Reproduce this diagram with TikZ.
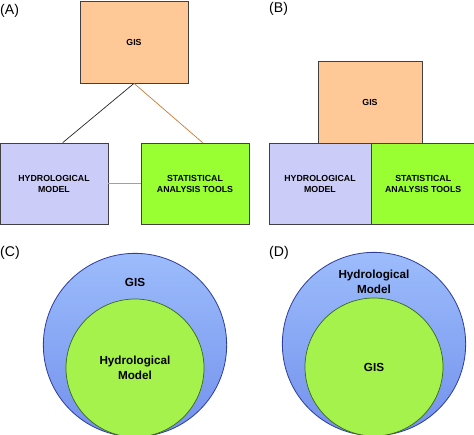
\documentclass[tikz,border=0pt]{standalone}
\usepackage{fontspec}
\setmainfont{Liberation Sans}
\usetikzlibrary{calc}
\definecolor{gisfill}{HTML}{FFC896}
\definecolor{hydfill}{HTML}{CCCCF8}
\definecolor{statfill}{HTML}{99FF33}
\definecolor{brownline}{HTML}{CC7A33}
\definecolor{greenline}{HTML}{55E022}
\definecolor{bluetop}{HTML}{9CBCFC}
\definecolor{bluebot}{HTML}{7391EC}
\definecolor{blueedge}{HTML}{2E3E9A}
\definecolor{corefill}{HTML}{A6F24C}
\definecolor{coreedge}{HTML}{3A6A1A}
\begin{document}
\begin{tikzpicture}[x=0.03cm,y=-0.03cm,
  box/.style={draw=black!75,line width=0.6pt,rectangle,inner sep=0pt,align=center,
    font=\fontsize{7.5}{9.4}\selectfont\bfseries},
  disc/.style={draw=blueedge,line width=0.7pt,circle,inner sep=0pt,minimum size=5.5cm,
    top color=bluetop,bottom color=bluebot},
  core/.style={draw=coreedge,line width=0.6pt,circle,inner sep=0pt,minimum size=4.14cm,
    fill=corefill,align=center,font=\fontsize{10}{12.5}\selectfont\bfseries},
  ctext/.style={align=center,inner sep=0pt,font=\fontsize{10}{12.5}\selectfont\bfseries},
  tag/.style={anchor=west,inner sep=0pt,font=\fontsize{12}{14}\selectfont}]
\clip (0,0) rectangle (474,434);
% (A)
\node[tag] (la) at (0,11) {(A)};
\node[box,fill=gisfill,minimum width=3.24cm,minimum height=2.46cm] (gisa) at (134,42) {GIS};
\node[box,fill=hydfill,minimum width=3.24cm,minimum height=2.43cm] (hyda) at (54,183.5) {HYDROLOGICAL\\MODEL};
\node[box,fill=statfill,minimum width=3.24cm,minimum height=2.43cm] (stata) at (195,183.5) {STATISTICAL\\ANALYSIS TOOLS};
\draw[black!85,line width=0.6pt] (gisa.south) -- ($(hyda.north west)!0.58!(hyda.north east)$);
\draw[brownline,line width=0.6pt] (gisa.south) -- ($(stata.north west)!0.57!(stata.north east)$);
\draw[greenline,line width=0.8pt] (hyda.east) -- (stata.west);
% (B)
\node[tag] (lb) at (269,9) {(B)};
\node[box,fill=gisfill,minimum width=3.12cm,minimum height=2.46cm] (gisb) at (370,102) {GIS};
\node[box,fill=hydfill,minimum width=3.06cm,minimum height=2.43cm] (hydb) at (320,183.5) {HYDROLOGICAL\\MODEL};
\node[box,fill=statfill,minimum width=3.09cm,minimum height=2.43cm,anchor=west] (statb) at (hydb.east) {STATISTICAL\\ANALYSIS TOOLS};
% (C)
\node[tag] (lc) at (0,253) {(C)};
\node[disc] (gisc) at (135,345) {};
\node[core] (hydc) at (135,368) {Hydrological\\Model};
\node[ctext] (gisctext) at (135,282) {GIS};
% (D)
\node[tag] (ld) at (269,253) {(D)};
\node[disc] (hydd) at (374,344) {};
\node[core] (gisd) at (374,367) {GIS};
\node[ctext] (hyddtext) at (374,282) {Hydrological\\Model};
\end{tikzpicture}
\end{document}
